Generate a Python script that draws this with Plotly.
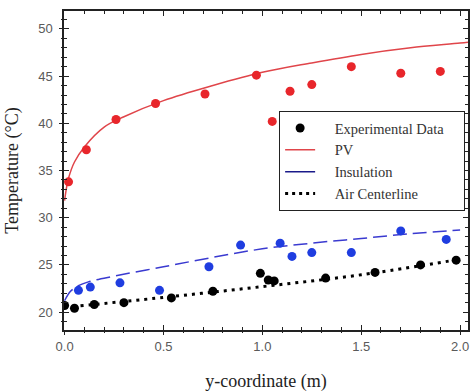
import plotly.graph_objects as go

# Experimental data
pv_x = [0.02, 0.11, 0.26, 0.46, 0.71, 0.97, 1.05, 1.14, 1.25, 1.45, 1.70, 1.90]
pv_y = [33.8, 37.2, 40.4, 42.1, 43.1, 45.1, 40.2, 43.4, 44.1, 46.0, 45.3, 45.5]

ins_x = [0.07, 0.13, 0.28, 0.48, 0.73, 0.89, 1.09, 1.15, 1.25, 1.45, 1.70, 1.93]
ins_y = [22.3, 22.65, 23.1, 22.3, 24.8, 27.1, 27.3, 25.9, 26.3, 26.3, 28.6, 27.7]

air_x = [0.00, 0.05, 0.15, 0.30, 0.54, 0.75, 0.99, 1.03, 1.06, 1.32, 1.57, 1.80, 1.98]
air_y = [20.7, 20.4, 20.8, 21.0, 21.5, 22.2, 24.1, 23.4, 23.3, 23.6, 24.2, 25.0, 25.5]

# Model curves
pv_line_x = [0.0, 0.01, 0.02, 0.05, 0.1, 0.2, 0.3, 0.5, 0.75, 1.0, 1.25, 1.5, 1.75, 2.0, 2.04]
pv_line_y = [31.8, 33.2, 34.2, 35.9, 37.5, 39.6, 40.7, 42.4, 44.0, 45.4, 46.4, 47.3, 48.0, 48.5, 48.6]

ins_line_x = [0.0, 0.03, 0.07, 0.12, 0.25, 0.5, 0.75, 1.0, 1.25, 1.5, 1.75, 2.0]
ins_line_y = [21.2, 22.2, 22.8, 23.2, 23.8, 24.8, 25.8, 26.7, 27.3, 27.8, 28.3, 28.7]

air_line_x = [0.0, 0.5, 1.0, 1.5, 2.0]
air_line_y = [20.5, 21.55, 22.7, 23.95, 25.6]

x_ticks = [0.0, 0.5, 1.0, 1.5, 2.0]
x_tick_labels = ["0.0", "0.5", "1.0", "1.5", "2.0"]
y_ticks = [20, 25, 30, 35, 40, 45, 50]

legend_names = ["Experimental Data", "PV", "Insulation", "Air Centerline"]

RED = "#e8262b"
REDLINE = "#e0454a"
BLUE = "#1f3de0"
BLUELINE = "#3a3ad0"

NB = "\u00a0"
def pad(s):
    return NB * 4 + s + NB * 4

fig = go.Figure()

fig.add_trace(go.Scatter(x=pv_line_x, y=pv_line_y, mode="lines", line=dict(color=REDLINE, width=1.5),
                         showlegend=False, line_shape="spline"))
fig.add_trace(go.Scatter(x=ins_line_x, y=ins_line_y, mode="lines",
                         line=dict(color=BLUELINE, width=1.5, dash="14px,6px"),
                         showlegend=False, line_shape="spline"))
fig.add_trace(go.Scatter(x=air_line_x, y=air_line_y, mode="lines",
                         line=dict(color="black", width=3, dash="3px,5px"),
                         showlegend=False, line_shape="spline"))

fig.add_trace(go.Scatter(x=pv_x, y=pv_y, mode="markers", marker=dict(color=RED, size=9),
                         showlegend=False))
fig.add_trace(go.Scatter(x=ins_x, y=ins_y, mode="markers", marker=dict(color=BLUE, size=9),
                         showlegend=False))
fig.add_trace(go.Scatter(x=air_x, y=air_y, mode="markers", marker=dict(color="black", size=9),
                         name=pad(legend_names[0])))

# legend-only entries
fig.add_trace(go.Scatter(x=[None], y=[None], mode="lines", line=dict(color=REDLINE, width=1.5),
                         name=pad(legend_names[1])))
fig.add_trace(go.Scatter(x=[None], y=[None], mode="lines", line=dict(color="#1a1a8a", width=1.5),
                         name=pad(legend_names[2])))
fig.add_trace(go.Scatter(x=[None], y=[None], mode="lines", line=dict(color="black", width=3, dash="3px,4px"),
                         name=pad(legend_names[3])))

tickfont = dict(family="Liberation Sans, Arial, sans-serif", size=13, color="#5a5a5a")
titlefont = dict(family="Liberation Serif, Times New Roman, serif", size=18, color="#222")

xr = [-0.003, 2.04]
yr = [18.1, 51.9]

fig.update_layout(
    width=474, height=392,
    margin=dict(l=64, r=6, t=11, b=62, autoexpand=False),
    plot_bgcolor="white", paper_bgcolor="white",
    xaxis=dict(range=xr, tickvals=x_ticks, ticktext=x_tick_labels, ticks="inside", ticklen=5,
               tickwidth=1.2, tickcolor="#222", showline=True, linecolor="#222", linewidth=1.5,
               mirror="ticks", showgrid=False, zeroline=False, tickfont=tickfont, automargin=False,
               ticklabelstandoff=4,
               minor=dict(dtick=0.1, ticks="inside", ticklen=3, tickcolor="#222", tickwidth=1),
               title=dict(text="y-coordinate (m)", font=titlefont, standoff=24)),
    yaxis=dict(range=yr, tickvals=y_ticks, ticks="inside", ticklen=5,
               tickwidth=1.2, tickcolor="#222", showline=True, linecolor="#222", linewidth=1.5,
               mirror="ticks", showgrid=False, zeroline=False, tickfont=tickfont, automargin=False,
               ticklabelstandoff=7,
               minor=dict(dtick=1, ticks="inside", ticklen=3, tickcolor="#222", tickwidth=1),
               title=dict(text="Temperature (°C)", font=titlefont, standoff=15)),
    xaxis2=dict(range=xr, overlaying="x", side="bottom", tickvals=x_ticks, ticks="outside", ticklen=4,
                tickwidth=1.2, tickcolor="#222", showticklabels=False, showgrid=False, zeroline=False,
                automargin=False,
                minor=dict(dtick=0.1, ticks="outside", ticklen=2, tickcolor="#222")),
    yaxis2=dict(range=yr, overlaying="y", side="left", tickvals=y_ticks, ticks="outside", ticklen=4,
                tickwidth=1.2, tickcolor="#222", showticklabels=False, showgrid=False, zeroline=False,
                automargin=False,
                minor=dict(dtick=1, ticks="outside", ticklen=2, tickcolor="#222")),
    legend=dict(x=0.532, y=0.687, xanchor="left", yanchor="top", bgcolor="white",
                bordercolor="#222", borderwidth=1.2,
                font=dict(family="Liberation Serif, Times New Roman, serif", size=14.5, color="#333"),
                tracegroupgap=0, itemwidth=30),
)

# dummy trace to activate the overlay axes
fig.add_trace(go.Scatter(x=[None], y=[None], xaxis="x2", yaxis="y2", showlegend=False))

# remove the default 8px page margin so the figure fills the window exactly
fig.write_html("out.html", config={"displayModeBar": False},
               post_script="document.body.style.margin='0px';")
